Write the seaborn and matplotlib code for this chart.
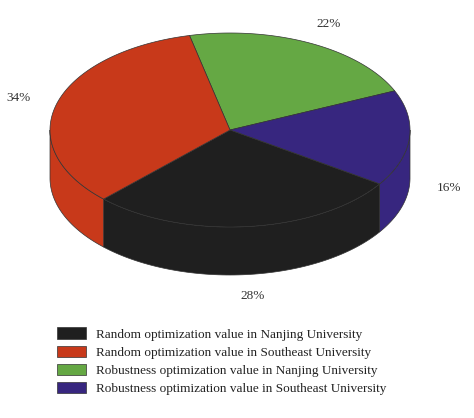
import numpy as np
import matplotlib
matplotlib.use("Agg")
import matplotlib.pyplot as plt
from matplotlib.patches import Polygon, Patch
import seaborn as sns

categories = ["Robustness optimization value in Nanjing University",
              "Robustness optimization value in Southeast University",
              "Random optimization value in Nanjing University",
              "Random optimization value in Southeast University"]
values = [22, 16, 28, 34]
colors = ["#65a844", "#37267f", "#1f1f1f", "#c8391a"]
legend_order = [2, 3, 0, 1]

sns.set_theme(style="white")
plt.rcParams['font.family'] = ['Liberation Serif', 'DejaVu Serif']

fig = plt.figure(figsize=(4.74, 4.18), dpi=100)
ax = fig.add_axes([0, 0, 1, 1])
ax.set_xlim(0, 474)
ax.set_ylim(418, 0)
ax.axis("off")

cx, cy, a, b, depth = 230, 130, 180, 97, 48
start = 103.0
fr = np.array(values) / sum(values)
bounds = start - 360 * np.concatenate([[0], np.cumsum(fr)])

def pt(t, dz=0):
    r = np.radians(t)
    return cx + a * np.cos(r), cy - b * np.sin(r) + dz

# side faces
for i in range(len(values)):
    t0, t1 = bounds[i + 1], bounds[i]  # t0 < t1
    # visible range: sin<0 -> angle in (-180, 0) mod 360
    for k in range(-2, 2):
        lo, hi = -180 + 360 * k, 0 + 360 * k
        s, e = max(t0, lo), min(t1, hi)
        if s < e:
            ts = np.linspace(s, e, 80)
            top = [pt(t) for t in ts]
            bot = [pt(t, depth) for t in ts[::-1]]
            ax.add_patch(Polygon(top + bot, closed=True, facecolor=colors[i],
                                 edgecolor="#333333", lw=0.5, zorder=1))
# top faces
for i in range(len(values)):
    ts = np.linspace(bounds[i], bounds[i + 1], 120)
    poly = [(cx, cy)] + [pt(t) for t in ts]
    ax.add_patch(Polygon(poly, closed=True, facecolor=colors[i],
                         edgecolor="#333333", lw=0.5, zorder=2))
# labels
for i, v in enumerate(values):
    m = (bounds[i] + bounds[i + 1]) / 2
    r = np.radians(m)
    x = cx + 1.22 * a * np.cos(r)
    y = cy - 1.22 * b * np.sin(r) + (depth if np.sin(r) < 0 else 0)
    ax.text(x, y, f"{v}%", ha="center", va="center", fontsize=9.5, color="#333333")

handles = [Patch(facecolor=colors[j], edgecolor="#333333", lw=0.5) for j in legend_order]
labels = [categories[j] for j in legend_order]
ax.legend(handles, labels, loc="upper left", bbox_to_anchor=(0.095, 0.245),
          bbox_transform=fig.transFigure, frameon=False, fontsize=9.5,
          handlelength=2.2, handleheight=1.0, labelspacing=0.35, handletextpad=0.8,
          labelcolor="#222222")

fig.savefig("out.png", dpi=100)
